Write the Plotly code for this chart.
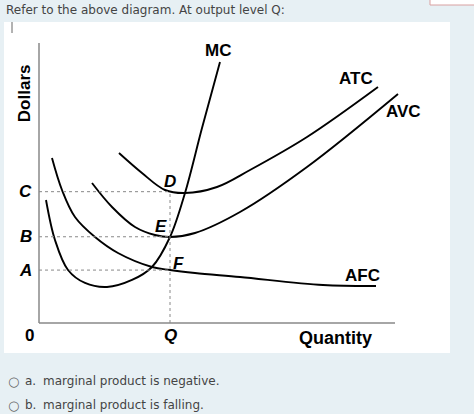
import plotly.graph_objects as go

# ---- data (quantity units 0-100, dollar units 0-100) ----
mc_x = [1.97, 4.49, 8.15, 12.92, 19.10, 26.12, 31.74, 36.80, 41.01, 45.79, 50.84]
mc_y = [43.93, 29.64, 18.93, 14.29, 12.86, 15.36, 20.0, 30.71, 46.43, 69.64, 93.21]

afc_x = [3.65, 6.46, 10.11, 15.73, 22.19, 31.74, 36.80, 43.82, 56.46, 79.78, 94.66]
afc_y = [58.93, 47.50, 37.86, 30.71, 25.0, 20.0, 18.93, 17.86, 16.43, 13.57, 13.21]

avc_x = [14.89, 20.51, 26.97, 32.58, 36.80, 43.82, 56.46, 75.28, 100.84]
avc_y = [50.0, 41.43, 34.29, 31.43, 30.71, 32.14, 39.64, 55.71, 81.79]

atc_x = [22.47, 28.93, 35.39, 41.01, 50.0, 59.27, 75.28, 95.22]
atc_y = [60.71, 53.57, 47.50, 46.43, 48.57, 54.64, 66.43, 84.29]

q_value = 36.8
level_names = ["A", "B", "C"]
level_values = [18.9, 30.8, 46.9]

point_names = ["D", "E", "F"]
point_xy = [(36.8, 50.6), (34.3, 34.3), (39.2, 21.4)]

curve_names = ["MC", "ATC", "AVC", "AFC"]
curve_label_xy = [(50.3, 97.5), (89.0, 87.5), (102.5, 75.4), (91.0, 17.1)]

question = "Refer to the above diagram. At output level Q:"
options = ["a.", "b."]
option_texts = ["marginal product is negative.", "marginal product is falling."]

W, H = 474, 414
BG = "#e7f0f4"

fig = go.Figure()
for xs, ys in [(mc_x, mc_y), (afc_x, afc_y), (avc_x, avc_y), (atc_x, atc_y)]:
    fig.add_trace(go.Scatter(x=xs, y=ys, mode="lines",
                             line=dict(color="black", width=1.9, shape="spline", smoothing=1.0),
                             hoverinfo="skip", showlegend=False))

shapes = []
def px(xp): return xp / W
def py(yp): return 1 - yp / H
shapes.append(dict(type="rect", xref="paper", yref="paper", x0=px(4), x1=px(450),
                   y0=py(353), y1=py(22), fillcolor="white", line=dict(width=0), layer="below"))
shapes.append(dict(type="rect", xref="paper", yref="paper", x0=px(430), x1=px(476),
                   y0=py(5), y1=py(-3), fillcolor="white", line=dict(color="#d9a0a0", width=1), layer="below"))
shapes.append(dict(type="line", xref="paper", yref="paper", x0=px(12), x1=px(12),
                   y0=py(33), y1=py(22), line=dict(color="#666", width=1)))
# axes
shapes.append(dict(type="line", x0=0, x1=0, y0=0, y1=100, line=dict(color="#888", width=1.5)))
shapes.append(dict(type="line", x0=0, x1=100, y0=0, y1=0, line=dict(color="#888", width=1.5)))
# dashed guides
for v in level_values:
    shapes.append(dict(type="line", x0=0, x1=q_value, y0=v, y1=v,
                       line=dict(color="#888", width=1, dash="dot")))
shapes.append(dict(type="line", x0=q_value, x1=q_value, y0=0, y1=max(level_values),
                   line=dict(color="#888", width=1, dash="dot")))

ann = []
FAM = "Liberation Sans, Arial"
bold = dict(family=FAM, size=17, color="black")
for name, v in zip(level_names, level_values):
    ann.append(dict(x=-3.7, y=v, text=f"<b><i>{name}</i></b>", showarrow=False, font=bold))
ann.append(dict(x=-2.6, y=-4.3, text="<b>0</b>", showarrow=False, font=bold))
ann.append(dict(x=q_value, y=-4.3, text="<b><i>Q</i></b>", showarrow=False, font=bold))
for name, (x, y) in zip(point_names, point_xy):
    ann.append(dict(x=x, y=y, text=f"<b><i>{name}</i></b>", showarrow=False, font=bold))
for name, (x, y) in zip(curve_names, curve_label_xy):
    ann.append(dict(x=x, y=y, text=f"<b>{name}</b>", showarrow=False, font=bold))
ann.append(dict(x=83.4, y=-5.4, text="<b>Quantity</b>", showarrow=False,
                font=dict(family=FAM, size=18, color="black")))
ann.append(dict(x=-4.2, y=82.1, text="<b>Dollars</b>", showarrow=False, textangle=-90,
                font=dict(family=FAM, size=17, color="black")))

ui_font = dict(family="DejaVu Sans", size=12, color="#444")
ann.append(dict(xref="paper", yref="paper", x=px(4), y=py(10), xanchor="left", yanchor="middle",
                text=question, showarrow=False, font=ui_font))
for i, (o, t) in enumerate(zip(options, option_texts)):
    yy = py(381 + 24 * i)
    ann.append(dict(xref="paper", yref="paper", x=px(6), y=yy, xanchor="left", yanchor="middle",
                    text="○", showarrow=False, font=dict(family="DejaVu Sans", size=13, color="#666")))
    ann.append(dict(xref="paper", yref="paper", x=px(23), y=yy, xanchor="left", yanchor="middle",
                    text=o, showarrow=False, font=ui_font))
    ann.append(dict(xref="paper", yref="paper", x=px(41), y=yy, xanchor="left", yanchor="middle",
                    text=t, showarrow=False, font=ui_font))

x_ppu, y_ppu = 3.56, 2.8
fig.update_layout(
    width=W, height=H, margin=dict(l=0, r=0, t=0, b=0),
    paper_bgcolor=BG, plot_bgcolor="rgba(0,0,0,0)",
    xaxis=dict(range=[-39 / x_ppu, (W - 39) / x_ppu], visible=False, fixedrange=True),
    yaxis=dict(range=[(323 - H) / y_ppu, 323 / y_ppu], visible=False, fixedrange=True),
    shapes=shapes, annotations=ann,
)
fig.write_html("out.html", config={"displayModeBar": False},
               post_script="document.body.style.margin='0';document.body.style.overflow='hidden';")
